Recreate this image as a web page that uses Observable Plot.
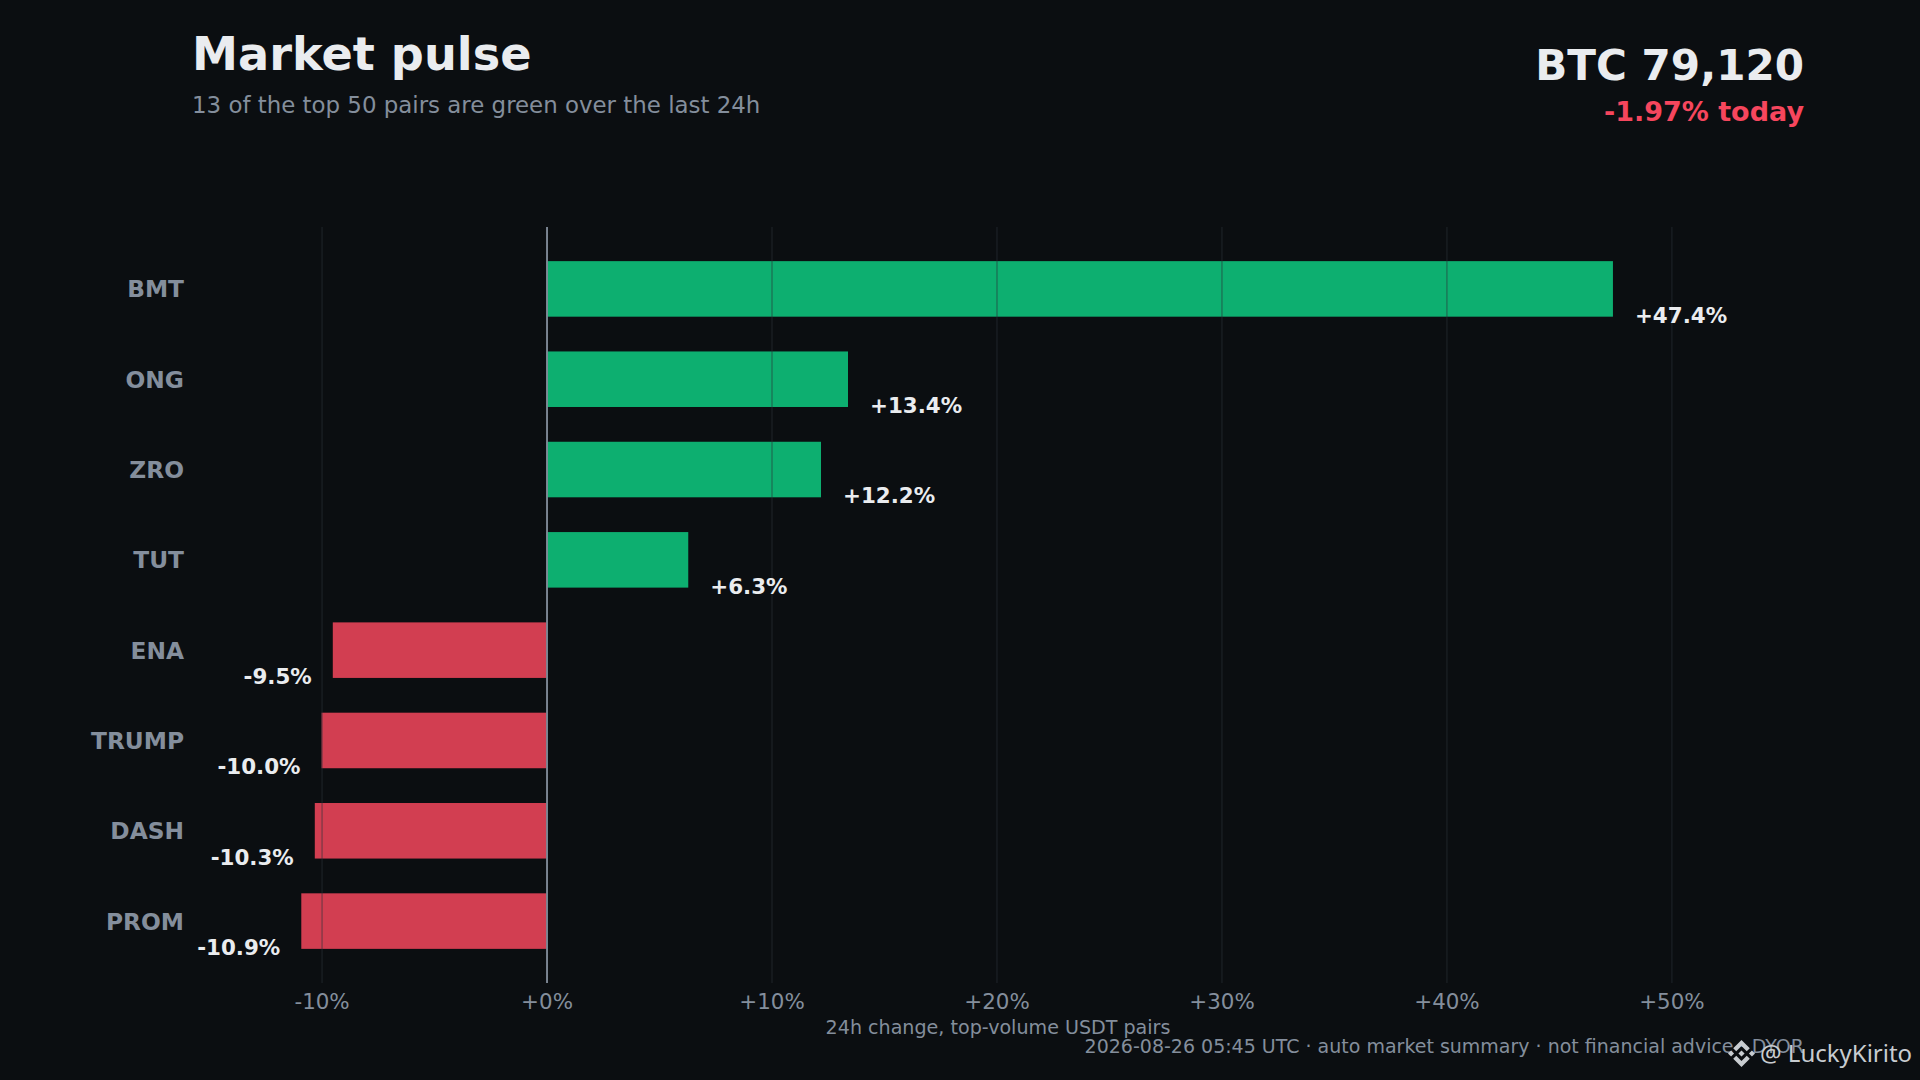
<!DOCTYPE html>
<html><head><meta charset="utf-8">
<script src="https://cdn.jsdelivr.net/npm/d3@7"></script>
<script src="https://cdn.jsdelivr.net/npm/@observablehq/plot@0.6"></script>
<style>
html,body{margin:0;padding:0;background:#0b0e11;}
body{width:1920px;height:1080px;position:relative;overflow:hidden;font-family:"DejaVu Sans",sans-serif;}
#chart{position:absolute;left:0;top:0;}
.t{position:absolute;white-space:nowrap;line-height:1;}
</style></head><body>
<div id="chart"></div>
<div class="t" id="title" style="left:192px;top:31px;font-size:46.2px;font-weight:700;color:#eaecef;">Market pulse</div>
<div class="t" id="sub" style="left:192px;top:94px;font-size:22.9px;color:#848e9c;">13 of the top 50 pairs are green over the last 24h</div>
<div class="t" id="btc" style="right:116px;top:45px;font-size:42.1px;font-weight:700;color:#eaecef;">BTC 79,120</div>
<div class="t" id="chg" style="right:116px;top:98px;font-size:27px;font-weight:700;color:#f6465d;">-1.97% today</div>
<div class="t" id="xlab" style="left:998px;top:1018px;transform:translateX(-50%);font-size:19.1px;color:#848e9c;">24h change, top-volume USDT pairs</div>
<div class="t" id="foot" style="right:116px;top:1037px;font-size:19px;color:#848e9c;">2026-08-26 05:45 UTC · auto market summary · not financial advice · DYOR</div>
<div class="t" id="wm" style="left:1760px;top:1041px;font-size:24px;color:#c8ccd0;font-family:'Noto Sans',sans-serif;">@ LuckyKirito</div>
<svg style="position:absolute;left:1728px;top:1040px" width="27" height="27" viewBox="0 0 126.61 126.61"><g fill="#c8ccd0">
<path d="M38.73 53.2l24.59-24.58 24.6 24.6 14.3-14.31L63.32 0 24.42 38.9z"/><path d="M0 63.31l14.3-14.31 14.31 14.31-14.31 14.3z"/><path d="M38.73 73.41l24.59 24.59 24.6-24.6 14.31 14.29-38.9 38.91-38.91-38.88-.02-.02z"/><path d="M98 63.31l14.3-14.31 14.31 14.31-14.31 14.3z"/><path d="M77.83 63.3L63.32 48.78 52.59 59.51l-1.24 1.23-2.54 2.54 14.51 14.5 14.51-14.47z"/></g></svg>
<script>
const symbols = ["BMT","ONG","ZRO","TUT","ENA","TRUMP","DASH","PROM"];
const changes = [47.4,13.4,12.2,6.3,-9.5,-10.0,-10.3,-10.9];
const ticks = [-10,0,10,20,30,40,50];
const colorUp = "#0ecb81", colorDown = "#f6465d";
const rows = symbols.map((s,i)=>({s,v:changes[i]}));
const fmt = v => (v>=0?"+":"")+v.toFixed(1)+"%";
const labelOpts = {y:"s",x:"v",text:d=>fmt(d.v),fontSize:21.4,fontWeight:700,fill:"#eaecef",dy:26.5};
const chart = Plot.plot({
  width:1920,height:1080,marginLeft:191.5,marginRight:116.5,marginTop:227,marginBottom:97,
  style:{background:"transparent",fontFamily:"DejaVu Sans"},
  x:{domain:[-15.78,55.87],axis:null},
  y:{domain:symbols,paddingInner:.385,paddingOuter:.378,round:false,axis:null},
  marks:[
    Plot.barX(rows,{y:"s",x:"v",fill:d=>d.v>=0?colorUp:colorDown,fillOpacity:.85}),
    Plot.ruleX(ticks,{stroke:"#2b3139",strokeWidth:1,strokeOpacity:.65}),
    Plot.ruleX([0],{stroke:"#848e9c",strokeWidth:1.8}),
    Plot.axisY({anchor:"left",tickSize:0,tickPadding:8,fontSize:23.3,fontWeight:700,color:"#848e9c",label:null,dy:0.5}),
    Plot.axisX(ticks,{anchor:"bottom",tickSize:0,tickPadding:10,fontSize:21.4,color:"#848e9c",label:null,tickFormat:d=>(d>=0?"+":"")+d+"%"}),
    Plot.text(rows.filter(d=>d.v>=0),{...labelOpts,textAnchor:"start",dx:21.5}),
    Plot.text(rows.filter(d=>d.v<0),{...labelOpts,textAnchor:"end",dx:-21.5})
  ]
});
document.getElementById("chart").append(chart);
</script>
</body></html>
